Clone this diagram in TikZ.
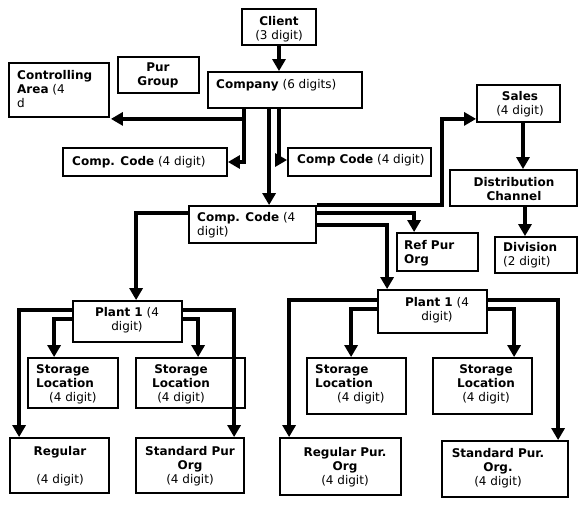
\documentclass[tikz,border=0pt]{standalone}
\usepackage{fontspec}
\setmainfont{DejaVu Sans}
\usetikzlibrary{arrows.meta}
\tikzset{
  box/.style={draw, line width=1.8pt, inner sep=0pt},
  txt/.style={inner sep=0pt, font=\fontsize{12}{14}\selectfont},
  arr/.style={line width=3.5pt, -{Triangle[length=12pt,width=13pt]}},
}
\begin{document}
\begin{tikzpicture}[x=1pt,y=1pt]
\useasboundingbox (0,0) rectangle (587,-507);
% boxes
\node[box, minimum width=74pt, minimum height=36pt] (client) at (279,-27) {};
\node[box, minimum width=81pt, minimum height=36pt] (pur) at (158.5,-75) {};
\node[box, minimum width=100pt, minimum height=54pt] (ctrl) at (59,-90) {};
\node[box, minimum width=154pt, minimum height=36pt] (company) at (285,-90) {};
\node[box, minimum width=164pt, minimum height=28pt] (cc1) at (145,-162) {};
\node[box, minimum width=143pt, minimum height=28pt] (cc2) at (359.5,-162) {};
\node[box, minimum width=83pt, minimum height=37pt] (sales) at (518.5,-103.5) {};
\node[box, minimum width=127pt, minimum height=36pt] (dc) at (513.5,-188) {};
\node[box, minimum width=127pt, minimum height=37pt] (cc3) at (252.5,-224.5) {};
\node[box, minimum width=81pt, minimum height=38pt] (ref) at (437.5,-252) {};
\node[box, minimum width=82pt, minimum height=36pt] (div) at (536,-255) {};
\node[box, minimum width=109pt, minimum height=41pt] (pl1) at (127.5,-321.5) {};
\node[box, minimum width=90pt, minimum height=50pt] (sl1) at (73,-383) {};
\node[box, minimum width=109pt, minimum height=50pt] (sl2) at (190.5,-383) {};
\node[box, minimum width=99pt, minimum height=55pt] (reg) at (59.5,-465.5) {};
\node[box, minimum width=108pt, minimum height=55pt] (std) at (190,-465.5) {};
\node[box, minimum width=109pt, minimum height=43pt] (pl2) at (432.5,-311.5) {};
\node[box, minimum width=99pt, minimum height=56pt] (sl3) at (356.5,-386) {};
\node[box, minimum width=99pt, minimum height=56pt] (sl4) at (482.5,-386) {};
\node[box, minimum width=121pt, minimum height=57pt] (rpo) at (340.5,-466.5) {};
\node[box, minimum width=126pt, minimum height=56pt] (spo) at (505,-469) {};
% texts
\node[txt, align=center] (tclient) at (279,-29) {\textbf{Client}\\(3 digit)};
\node[txt, align=center] (tpur) at (158,-75.5) {\textbf{Pur}\\\textbf{Group}};
\node[txt, align=left, anchor=west] (tctrl) at (17,-89.5) {\textbf{Controlling}\\\textbf{Area} (4\\d};
\node[txt, anchor=west] (tcompany) at (216,-85) {\textbf{Company} (6 digits)};
\node[txt, anchor=west] (tcc1) at (72,-162) {\textbf{Comp. Code} (4 digit)};
\node[txt, anchor=west] (tcc2) at (297,-160) {\textbf{Comp Code} (4 digit)};
\node[txt, align=center] (tsales) at (520,-104.5) {\textbf{Sales}\\(4 digit)};
\node[txt, align=center] (tdc) at (514,-189) {\textbf{Distribution}\\\textbf{Channel}};
\node[txt, align=left, anchor=west] (tcc3) at (197,-225) {\textbf{Comp. Code} (4\\digit)};
\node[txt, align=left, anchor=west] (tref) at (404,-253) {\textbf{Ref Pur}\\\textbf{Org}};
\node[txt, align=left, anchor=west] (tdiv) at (503,-255) {\textbf{Division}\\(2 digit)};
\node[txt, align=center] (tpl1) at (127,-320) {\textbf{Plant 1} (4\\digit)};
\node[txt, align=left, anchor=west] (tsl1) at (36,-384) {\textbf{Storage}\\\textbf{Location}\\\hspace*{13pt}(4 digit)};
\node[txt, align=center] (tsl2) at (181,-384) {\textbf{Storage}\\\textbf{Location}\\(4 digit)};
\node[txt, align=center] (treg) at (60,-466) {\textbf{Regular}\\ \\(4 digit)};
\node[txt, align=center] (tstd) at (190,-466) {\textbf{Standard Pur}\\\textbf{Org}\\(4 digit)};
\node[txt, align=center] (tpl2) at (437,-310) {\textbf{Plant 1} (4\\digit)};
\node[txt, align=left, anchor=west] (tsl3) at (315,-384) {\textbf{Storage}\\\textbf{Location}\\\hspace*{22pt}(4 digit)};
\node[txt, align=center] (tsl4) at (486,-384) {\textbf{Storage}\\\textbf{Location}\\(4 digit)};
\node[txt, align=center] (trpo) at (345,-467.5) {\textbf{Regular Pur.}\\\textbf{Org}\\(4 digit)};
\node[txt, align=center] (tspo) at (498,-468.5) {\textbf{Standard Pur.}\\\textbf{Org.}\\(4 digit)};
% connectors
\draw[arr] (client.south) -- (client.south |- company.north);
\draw[arr] ([xshift=37pt]company.south west) |- ([shift={(1pt,-1pt)}]ctrl.south east);
\draw[arr] ([xshift=37pt]company.south west) |- (cc1.east);
\draw[arr] ([xshift=72pt]company.south west) |- ([yshift=2pt]cc2.west);
\draw[arr] ([xshift=62pt]company.south west) -- ([xshift=62pt]company.south west |- cc3.north);
\draw[arr] (cc3.north east) -- ++(125pt,0) |- ([yshift=4pt]sales.south west);
\draw[arr] ([yshift=-8pt]cc3.north east) -| ([xshift=18pt]ref.north west);
\draw[arr] ([yshift=-20pt]cc3.north east) -| ([xshift=10pt]pl2.north west);
\draw[arr] ([yshift=-8pt]cc3.north west) -| ([xshift=64pt]pl1.north west);
\draw[arr] ([xshift=4.5pt]sales.south) -- ([xshift=4.5pt]sales.south |- dc.north);
\draw[arr] ([xshift=-11pt]div.north |- dc.south) -- ([xshift=-11pt]div.north);
\draw[arr] ([yshift=-10pt]pl1.north west) -| ([xshift=10pt]reg.north west);
\draw[arr] ([yshift=-19pt]pl1.north west) -| ([xshift=27pt]sl1.north west);
\draw[arr] ([yshift=-19pt]pl1.north east) -| ([xshift=63pt]sl2.north west);
\draw[arr] ([yshift=-10pt]pl1.north east) -| ([xshift=99pt]std.north west);
\draw[arr] ([yshift=-11pt]pl2.north west) -| ([xshift=10pt]rpo.north west);
\draw[arr] ([yshift=-20pt]pl2.north west) -| ([xshift=45pt]sl3.north west);
\draw[arr] ([yshift=-20pt]pl2.north east) -| ([xshift=82pt]sl4.north west);
\draw[arr] ([yshift=-11pt]pl2.north east) -| ([xshift=117pt]spo.north west);
\end{tikzpicture}
\end{document}
